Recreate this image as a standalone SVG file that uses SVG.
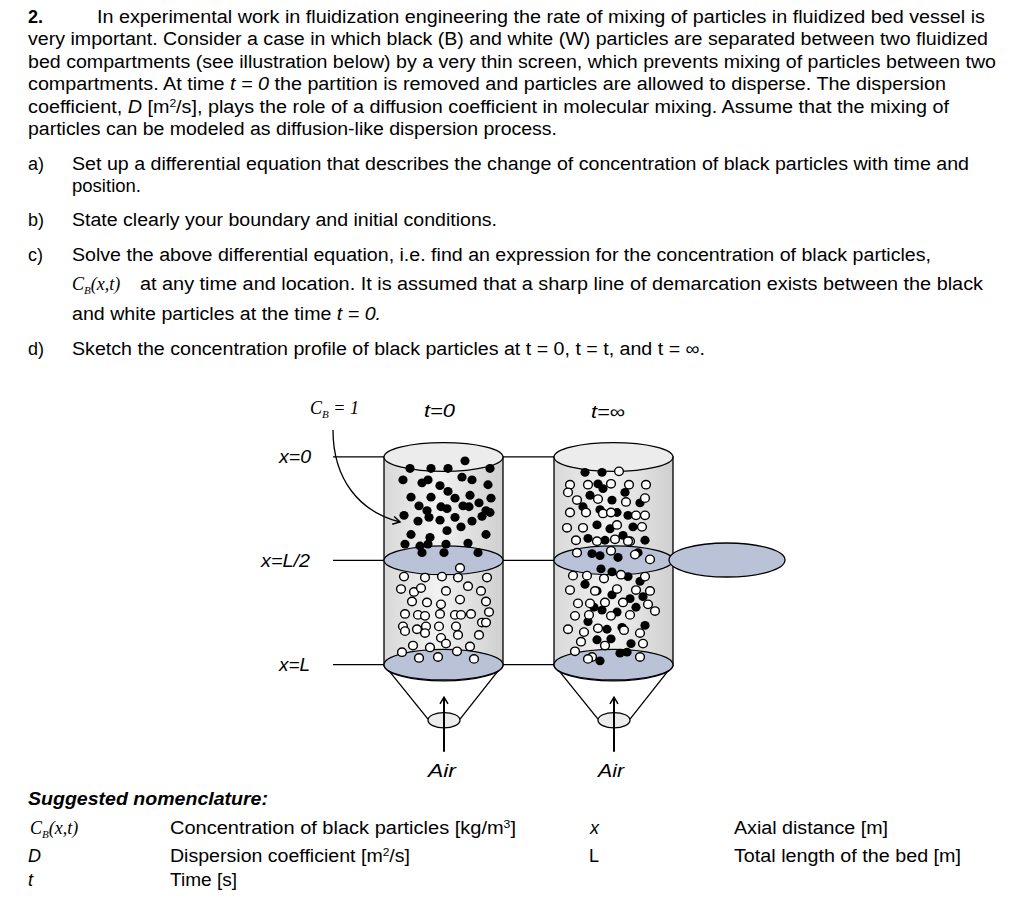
<svg xmlns="http://www.w3.org/2000/svg" width="1024" height="901" viewBox="0 0 1024 901">
<defs>
<style>
text{font-family:"Liberation Sans",Arial,sans-serif;font-size:18px;fill:#000}
.it{font-style:italic}
.ser{font-family:"Liberation Serif","Times New Roman",serif;font-style:italic}
.ln{stroke:#000;stroke-width:1.3;fill:none}
.top{fill:#ececec;stroke:#000;stroke-width:1.3}
.disk{fill:#b9c2d6;stroke:#000;stroke-width:1.3}
.b{fill:#000}
.w{fill:#fff;stroke:#000;stroke-width:1.4}
</style>
<linearGradient id="g" x1="0" x2="1"><stop offset="0" stop-color="#d8d8d8"/><stop offset="0.45" stop-color="#f2f2f2"/><stop offset="1" stop-color="#cfcfcf"/></linearGradient>
<marker id="ah" markerWidth="10" markerHeight="10" refX="8" refY="5" orient="auto" markerUnits="userSpaceOnUse"><path d="M1,1 L8,5 L1,9" fill="none" stroke="#000" stroke-width="1.5"/></marker>
<circle id="B" r="4.6" class="b"/>
<circle id="W" r="4.4" class="w"/>
</defs>
<rect width="1024" height="901" fill="#fff"/>
<g id="question">
<text x="28" y="23" font-weight="bold">2.</text>
<text x="97" y="23" textLength="888" lengthAdjust="spacingAndGlyphs">In experimental work in fluidization engineering the rate of mixing of particles in fluidized bed vessel is</text>
<text x="28" y="45" textLength="960" lengthAdjust="spacingAndGlyphs">very important. Consider a case in which black (B) and white (W) particles are separated between two fluidized</text>
<text x="28" y="68" textLength="968" lengthAdjust="spacingAndGlyphs">bed compartments (see illustration below) by a very thin screen, which prevents mixing of particles between two</text>
<text x="28" y="90" textLength="918" lengthAdjust="spacingAndGlyphs">compartments.  At time <tspan class="it">t = 0</tspan> the partition is removed and particles are allowed to disperse. The dispersion</text>
<text x="28" y="113" textLength="921" lengthAdjust="spacingAndGlyphs">coefficient, <tspan class="it">D</tspan> [m<tspan font-size="11" dy="-6">2</tspan><tspan dy="6">/s], plays the role of a diffusion coefficient in molecular mixing.  Assume that the mixing of</tspan></text>
<text x="28" y="135" textLength="529" lengthAdjust="spacingAndGlyphs">particles can be modeled as diffusion-like dispersion process.</text>
<text x="28" y="170">a)</text>
<text x="72" y="170" textLength="897" lengthAdjust="spacingAndGlyphs">Set up a differential equation that describes the change of concentration of black particles with time and</text>
<text x="72" y="192" textLength="69" lengthAdjust="spacingAndGlyphs">position.</text>
<text x="28" y="226">b)</text>
<text x="72" y="226" textLength="425" lengthAdjust="spacingAndGlyphs">State clearly your boundary and initial conditions.</text>
<text x="28" y="261">c)</text>
<text x="72" y="261" textLength="859" lengthAdjust="spacingAndGlyphs">Solve the above differential equation, i.e. find an expression for the concentration of black particles,</text>
<text x="72" y="290" class="ser" font-size="19">C<tspan font-size="11" dy="4">B</tspan><tspan dy="-4">(x,t)</tspan></text>
<text x="140" y="290" textLength="843" lengthAdjust="spacingAndGlyphs">at any time and location.  It is assumed that a sharp line of demarcation exists between the black</text>
<text x="72" y="320" textLength="309" lengthAdjust="spacingAndGlyphs">and white particles at the time <tspan class="it">t = 0.</tspan></text>
<text x="28" y="355">d)</text>
<text x="72" y="355" textLength="633" lengthAdjust="spacingAndGlyphs">Sketch the concentration profile of black particles at t = 0, t = t, and t = ∞.</text>
</g>
<g id="labels">
<text x="310" y="414" class="ser" font-size="19">C<tspan font-size="11" dy="4">B</tspan><tspan dy="-4"> = 1</tspan></text>
<text x="424" y="417" class="it" textLength="31" lengthAdjust="spacingAndGlyphs">t=0</text>
<text x="591" y="418" class="it" textLength="34" lengthAdjust="spacingAndGlyphs">t=∞</text>
<text x="279" y="463" class="it" textLength="32" lengthAdjust="spacingAndGlyphs">x=0</text>
<text x="261" y="567" class="it" textLength="49" lengthAdjust="spacingAndGlyphs">x=L/2</text>
<text x="279" y="671" class="it" textLength="31" lengthAdjust="spacingAndGlyphs">x=L</text>
<text x="428" y="777" class="it" textLength="28" lengthAdjust="spacingAndGlyphs">Air</text>
<text x="598" y="777" class="it" textLength="26" lengthAdjust="spacingAndGlyphs">Air</text>
</g>
<g transform="translate(0,390) scale(1,0.957) translate(0,-390)">
<g id="connectors-h">
<line class="ln" x1="333" y1="460" x2="384" y2="460"/>
<line class="ln" x1="333" y1="568" x2="384" y2="568"/>
<line class="ln" x1="333" y1="677" x2="384" y2="677"/>
<line class="ln" x1="503" y1="460" x2="554" y2="460"/>
<line class="ln" x1="503" y1="568" x2="554" y2="568"/>
<line class="ln" x1="503" y1="677" x2="554" y2="677"/>
</g>
<g id="vessel-t0">
<path class="ln" d="M384,677 L428,734 M503,677 L460,734"/>
<ellipse cx="444" cy="735" rx="16" ry="8" class="top"/>
<path d="M384,460 L384,677 A59.5,17 0 0 0 503,677 L503,460 Z" fill="url(#g)" stroke="#000" stroke-width="1.3"/>
<ellipse cx="443.5" cy="460" rx="59.5" ry="15" class="top"/>
<ellipse cx="443.5" cy="568" rx="59.5" ry="15" class="disk"/>
<ellipse cx="443.5" cy="677" rx="59.5" ry="16" class="disk"/>
<line x1="444" y1="768" x2="444" y2="711" stroke="#000" stroke-width="2" marker-end="url(#ah)"/>
<g>
<use href="#B" x="410" y="472"/><use href="#B" x="431" y="472"/><use href="#B" x="448" y="472"/><use href="#B" x="465" y="464"/><use href="#B" x="490" y="472"/>
<use href="#B" x="403" y="484"/><use href="#B" x="422" y="487"/><use href="#B" x="428" y="484"/><use href="#B" x="440" y="490"/><use href="#B" x="462" y="481"/><use href="#B" x="472" y="484"/><use href="#B" x="488" y="489"/>
<use href="#B" x="411" y="502"/><use href="#B" x="431" y="502"/><use href="#B" x="448" y="496"/><use href="#B" x="455" y="503"/><use href="#B" x="470" y="500"/><use href="#B" x="479" y="508"/><use href="#B" x="491" y="503"/>
<use href="#B" x="419" y="511"/><use href="#B" x="427" y="516"/><use href="#B" x="441" y="512"/><use href="#B" x="447" y="514"/><use href="#B" x="463" y="511"/><use href="#B" x="469" y="512"/><use href="#B" x="486" y="516"/><use href="#B" x="490" y="518"/>
<use href="#B" x="404" y="521"/><use href="#B" x="418" y="527"/><use href="#B" x="429" y="523"/><use href="#B" x="440" y="526"/><use href="#B" x="455" y="523"/><use href="#B" x="472" y="527"/><use href="#B" x="482" y="522"/>
<use href="#B" x="411" y="541"/><use href="#B" x="430" y="544"/><use href="#B" x="447" y="537"/><use href="#B" x="461" y="533"/><use href="#B" x="486" y="541"/>
<use href="#B" x="405" y="551"/><use href="#B" x="420" y="553"/><use href="#B" x="428" y="551"/><use href="#B" x="446" y="551"/><use href="#B" x="468" y="550"/>
<use href="#B" x="422" y="560"/><use href="#B" x="444" y="560"/><use href="#B" x="478" y="560"/>
</g>
<g>
<use href="#W" x="460" y="576"/>
<use href="#W" x="404" y="585"/><use href="#W" x="425" y="586"/><use href="#W" x="442" y="585"/><use href="#W" x="458" y="586"/><use href="#W" x="487" y="586"/>
<use href="#W" x="401" y="598"/><use href="#W" x="414" y="601"/><use href="#W" x="421" y="597"/><use href="#W" x="446" y="600"/><use href="#W" x="468" y="595"/><use href="#W" x="481" y="600"/>
<use href="#W" x="412" y="611"/><use href="#W" x="427" y="612"/><use href="#W" x="441" y="614"/><use href="#W" x="460" y="609"/><use href="#W" x="486" y="611"/>
<use href="#W" x="405" y="624"/><use href="#W" x="418" y="625"/><use href="#W" x="425" y="626"/><use href="#W" x="440" y="624"/><use href="#W" x="455" y="625"/><use href="#W" x="461" y="625"/><use href="#W" x="471" y="624"/><use href="#W" x="489" y="622"/>
<use href="#W" x="403" y="637"/><use href="#W" x="417" y="640"/><use href="#W" x="426" y="637"/><use href="#W" x="439" y="637"/><use href="#W" x="456" y="637"/><use href="#W" x="482" y="633"/><use href="#W" x="486" y="633"/>
<use href="#W" x="405" y="642"/><use href="#W" x="425" y="644"/><use href="#W" x="441" y="649"/><use href="#W" x="458" y="646"/><use href="#W" x="479" y="646"/>
<use href="#W" x="413" y="657"/><use href="#W" x="430" y="659"/><use href="#W" x="446" y="655"/><use href="#W" x="470" y="658"/>
<use href="#W" x="402" y="664"/><use href="#W" x="419" y="670"/><use href="#W" x="438" y="669"/><use href="#W" x="457" y="663"/><use href="#W" x="474" y="671"/>
</g>
</g>
<g id="vessel-tinf">
<path class="ln" d="M554,677 L598,734 M673,677 L630,734"/>
<ellipse cx="614" cy="735" rx="16" ry="8" class="top"/>
<path d="M554,460 L554,677 A59.5,17 0 0 0 673,677 L673,460 Z" fill="url(#g)" stroke="#000" stroke-width="1.3"/>
<ellipse cx="613.5" cy="460" rx="59.5" ry="15" class="top"/>
<ellipse cx="613.5" cy="568" rx="59.5" ry="15" class="disk"/>
<ellipse cx="613.5" cy="677" rx="59.5" ry="16" class="disk"/>
<line x1="614" y1="768" x2="614" y2="711" stroke="#000" stroke-width="2" marker-end="url(#ah)"/>
<g>
<use href="#B" x="585" y="476"/><use href="#B" x="602" y="476"/><use href="#B" x="598" y="488"/><use href="#B" x="603" y="493"/><use href="#B" x="590" y="500"/><use href="#B" x="612" y="505"/><use href="#B" x="625" y="497"/><use href="#B" x="583" y="512"/>
<use href="#B" x="600" y="515"/><use href="#B" x="617" y="518"/><use href="#B" x="628" y="521"/><use href="#B" x="640" y="508"/><use href="#B" x="597" y="531"/><use href="#B" x="610" y="535"/><use href="#B" x="633" y="533"/><use href="#B" x="588" y="545"/>
<use href="#B" x="605" y="547"/><use href="#B" x="623" y="542"/><use href="#B" x="645" y="547"/><use href="#B" x="592" y="561"/><use href="#B" x="600" y="563"/><use href="#B" x="618" y="565"/><use href="#B" x="638" y="560"/><use href="#B" x="601" y="577"/>
<use href="#B" x="612" y="580"/><use href="#B" x="628" y="585"/><use href="#B" x="640" y="590"/><use href="#B" x="585" y="593"/><use href="#B" x="597" y="600"/><use href="#B" x="612" y="604"/><use href="#B" x="630" y="608"/><use href="#B" x="643" y="606"/>
<use href="#B" x="594" y="617"/><use href="#B" x="602" y="620"/><use href="#B" x="617" y="622"/><use href="#B" x="636" y="617"/><use href="#B" x="588" y="632"/><use href="#B" x="607" y="640"/><use href="#B" x="622" y="638"/><use href="#B" x="645" y="636"/>
<use href="#B" x="597" y="651"/><use href="#B" x="611" y="650"/><use href="#B" x="631" y="655"/><use href="#B" x="620" y="665"/><use href="#B" x="627" y="664"/><use href="#B" x="600" y="673"/>
</g>
<g>
<use href="#W" x="619" y="475"/><use href="#W" x="570" y="489"/><use href="#W" x="588" y="489"/><use href="#W" x="611" y="488"/><use href="#W" x="629" y="489"/><use href="#W" x="646" y="489"/><use href="#W" x="577" y="505"/><use href="#W" x="598" y="504"/>
<use href="#W" x="626" y="507"/><use href="#W" x="645" y="503"/><use href="#W" x="570" y="518"/><use href="#W" x="586" y="518"/><use href="#W" x="603" y="519"/><use href="#W" x="611" y="518"/><use href="#W" x="636" y="521"/><use href="#W" x="645" y="521"/>
<use href="#W" x="567" y="534"/><use href="#W" x="583" y="534"/><use href="#W" x="617" y="531"/><use href="#W" x="642" y="533"/><use href="#W" x="576" y="547"/><use href="#W" x="597" y="548"/><use href="#W" x="615" y="546"/><use href="#W" x="630" y="548"/>
<use href="#W" x="577" y="560"/><use href="#W" x="611" y="558"/><use href="#W" x="635" y="562"/><use href="#W" x="650" y="567"/><use href="#W" x="573" y="584"/><use href="#W" x="587" y="584"/><use href="#W" x="604" y="587"/><use href="#W" x="621" y="583"/>
<use href="#W" x="645" y="585"/><use href="#W" x="570" y="599"/><use href="#W" x="595" y="600"/><use href="#W" x="617" y="598"/><use href="#W" x="636" y="599"/><use href="#W" x="650" y="600"/><use href="#W" x="578" y="613"/><use href="#W" x="590" y="613"/>
<use href="#W" x="605" y="612"/><use href="#W" x="623" y="612"/><use href="#W" x="648" y="614"/><use href="#W" x="575" y="626"/><use href="#W" x="589" y="625"/><use href="#W" x="611" y="626"/><use href="#W" x="630" y="625"/><use href="#W" x="655" y="621"/>
<use href="#W" x="568" y="640"/><use href="#W" x="584" y="643"/><use href="#W" x="598" y="639"/><use href="#W" x="624" y="641"/><use href="#W" x="640" y="644"/><use href="#W" x="581" y="653"/><use href="#W" x="605" y="657"/><use href="#W" x="643" y="655"/>
<use href="#W" x="575" y="663"/><use href="#W" x="592" y="669"/><use href="#W" x="640" y="669"/><use href="#W" x="588" y="671"/><use href="#W" x="628" y="548"/><use href="#W" x="568" y="497"/>
</g>
</g>
</g>
<g id="screen">
<ellipse cx="727" cy="560" rx="58" ry="17" class="disk"/>
</g>
<g id="connectors">
<path class="ln" d="M333,430 C333,480 360,512 400,522" marker-end="url(#ah)"/>
</g>
<g id="nomenclature">
<text x="28" y="805" class="it" font-weight="bold" textLength="240" lengthAdjust="spacingAndGlyphs">Suggested nomenclature:</text>
<text x="30" y="834" class="ser" font-size="19">C<tspan font-size="11" dy="4">B</tspan><tspan dy="-4">(x,t)</tspan></text>
<text x="170" y="834" textLength="346" lengthAdjust="spacingAndGlyphs">Concentration of black particles [kg/m<tspan font-size="11" dy="-6">3</tspan><tspan dy="6">]</tspan></text>
<text x="590" y="834" class="it">x</text>
<text x="734" y="834" textLength="154" lengthAdjust="spacingAndGlyphs">Axial distance [m]</text>
<text x="28" y="862" class="it">D</text>
<text x="170" y="862" textLength="240" lengthAdjust="spacingAndGlyphs">Dispersion coefficient [m<tspan font-size="11" dy="-6">2</tspan><tspan dy="6">/s]</tspan></text>
<text x="589" y="862">L</text>
<text x="734" y="862" textLength="227" lengthAdjust="spacingAndGlyphs">Total length of the bed [m]</text>
<text x="28" y="886" class="it">t</text>
<text x="170" y="886" textLength="67" lengthAdjust="spacingAndGlyphs">Time [s]</text>
</g>
</svg>
